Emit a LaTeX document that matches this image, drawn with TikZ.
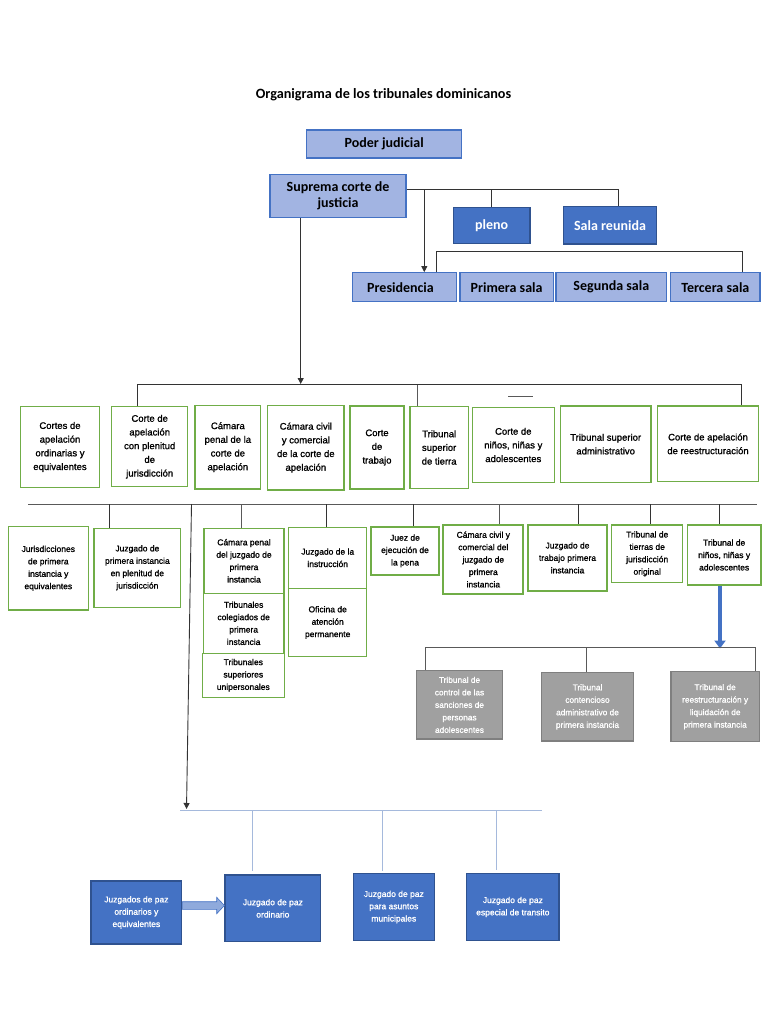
\documentclass[tikz,border=0pt]{standalone}
\usepackage{fontspec}
\setmainfont[FakeBold=1.2]{Liberation Sans}
\newfontfamily\carlito{Carlito}
\usetikzlibrary{arrows.meta}
\definecolor{lblue}{RGB}{162,180,226}
\definecolor{mblue}{RGB}{68,114,196}
\definecolor{dblue}{RGB}{47,82,143}
\definecolor{gborder}{RGB}{112,173,71}
\definecolor{gfill}{RGB}{160,160,160}
\definecolor{gdark}{RGB}{127,127,127}
\definecolor{arrowlb}{RGB}{143,170,220}
\definecolor{linebl}{RGB}{165,185,220}
\newcommand{\bx}[7]{\node[#1, minimum width={(#5)-(#3)}, minimum height={(#6)-(#4)}] (#2) at ({((#3)+(#5))/2},{((#4)+(#6))/2}) {#7};}
\tikzset{
  base/.style={rectangle, draw, inner sep=0pt, align=center},
  lb/.style={base, fill=lblue, draw=mblue, line width=1.2pt, font=\carlito\bfseries\fontsize{14}{16.5}\selectfont},
  db/.style={base, fill=mblue, draw=dblue, line width=1.2pt, text=white, font=\carlito\bfseries\fontsize{14}{16.5}\selectfont},
  gb/.style={base, fill=white, draw=gborder, line width=1.4pt, font=\fontsize{9.5}{13.7}\selectfont},
  gs/.style={base, fill=white, draw=gborder, line width=1.3pt, font=\fontsize{8.5}{12.4}\selectfont},
  gt/.style={gs, line width=2.3pt},
  grb/.style={base, fill=gfill, draw=gdark, line width=1.2pt, text=white, font=\fontsize{8.3}{12.5}\selectfont},
  pb/.style={base, fill=mblue, draw=dblue, line width=1.2pt, text=white, font=\fontsize{8.5}{12.3}\selectfont},
  conn/.style={draw=black!80, line width=0.9pt},
  conng/.style={draw=black!65, line width=0.9pt},
  connb/.style={draw=linebl, line width=1pt},
  arr/.style={-{Triangle[length=6pt,width=6pt]}}
}
\begin{document}
\begin{tikzpicture}[x=1pt,y=-1pt]
\useasboundingbox (0,0) rectangle (768,1024);
\fill[white] (0,0) rectangle (768,1024);

\node[font=\carlito\bfseries\fontsize{14.2}{16}\selectfont] (title) at (383.5,95) {Organigrama de los tribunales dominicanos};

% top
\bx{lb}{poder}{306.7}{130}{461.7}{158}{Poder judicial}
\bx{lb}{suprema}{270}{174.3}{406}{217.3}{Suprema corte de\\justicia}
\bx{db}{pleno}{453.3}{207.7}{530}{243.3}{pleno}
\bx{db}{sala}{563.3}{206.7}{656.7}{244}{Sala reunida}
\bx{lb}{pres}{352.3}{272.7}{456.7}{301.7}{Presidencia\hspace*{8pt}}
\bx{lb}{prim}{460}{272.7}{553.3}{301.7}{Primera sala}
\bx{lb}{seg}{556}{272.7}{666.7}{301.7}{Segunda sala}
\bx{lb}{terc}{670.7}{272.7}{760}{301.7}{Tercera sala}

\draw[conn] (suprema.east |- 0,189.3) -- (618,189.3) -- (618,0 |- sala.north);
\draw[conn] (491.7,189.3) -- (491.7,0 |- pleno.north);
\draw[conn,arr] (424.3,189.3) -- (424.3,0 |- pres.north);
\draw[conn] (436.7,0 |- pres.north) -- (436.7,251.7) -- (742.3,251.7) -- (742.3,0 |- terc.north);
\draw[conn,arr] (300.7,0 |- suprema.south) -- (300.7,384);

% row 2
\bx{gb}{c1}{20.7}{406.7}{99.3}{487.3}{Cortes de\\apelación\\ordinarias y\\equivalentes}
\bx{gb}{c2}{111.7}{406.7}{187.7}{486.7}{Corte de\\apelación\\con plenitud\\de\\jurisdicción}
\bx{gb}{c3}{195}{405.3}{260.7}{489}{Cámara\\penal de la\\corte de\\apelación}
\bx{gb}{c4}{267.7}{405.3}{344}{490}{Cámara civil\\y comercial\\de la corte de\\apelación}
\bx{gb}{c5}{350}{406}{404}{489}{Corte\\de\\trabajo}
\bx{gb}{c6}{410}{406.7}{468.3}{488.3}{Tribunal\\superior\\de tierra}
\bx{gb}{c7}{472.3}{407.3}{554.3}{482.7}{Corte de\\niños, niñas y\\adolescentes}
\bx{gb}{c8}{560.3}{406}{651}{482.3}{Tribunal superior\\administrativo}
\bx{gb}{c9}{657.7}{406}{758.3}{481.7}{Corte de apelación\\de reestructuración}

\draw[conn] (137.3,0 |- c2.north) -- (137.3,384.7) -- (741.5,384.7) -- (741.5,0 |- c9.north);
\draw[conng] (417.7,384.7) -- (417.7,0 |- c6.north);
\draw[conng] (508,396) -- (533,396);

% row 3
\bx{gs}{a}{8.3}{526.7}{88.3}{610}{Jurisdicciones\\de primera\\instancia y\\equivalentes}
\bx{gs}{b}{94}{528.3}{180.7}{607.3}{Juzgado de\\primera instancia\\en plenitud de\\jurisdicción}
\bx{gs}{cp}{204}{528.3}{284}{593.3}{Cámara penal\\del juzgado de\\primera\\instancia}
\bx{gs}{d}{203.3}{593.3}{284}{653.3}{Tribunales\\colegiados de\\primera\\instancia}
\bx{gs}{e}{202.3}{653.3}{284.3}{697.3}{Tribunales\\superiores\\unipersonales}
\bx{gs}{f}{288.7}{527.3}{366.7}{588.3}{Juzgado de la\\instrucción}
\bx{gs}{g}{288.7}{588.3}{366.7}{656.7}{Oficina de\\atención\\permanente}
\bx{gt}{h}{371}{526.7}{439}{575}{Juez de\\ejecución de\\la pena}
\bx{gt}{i}{443.3}{525}{523.3}{594}{Cámara civil y\\comercial del\\juzgado de\\primera\\instancia}
\bx{gt}{j}{528.3}{525}{606.7}{590.7}{Juzgado de\\trabajo primera\\instancia}
\bx{gs}{k}{611.7}{525}{682.7}{582.7}{Tribunal de\\tierras de\\jurisdicción\\original}
\bx{gs}{l}{687.3}{525}{761}{585}{Tribunal de\\niños, niñas y\\adolescentes}

\draw[conng] (28,504) -- (757,504);
\draw[conn] (109.3,504) -- (109.3,0 |- b.north);
\draw[conng] (241.7,504) -- (241.7,0 |- cp.north);
\draw[conn] (326.7,504) -- (326.7,0 |- f.north);
\draw[conn] (413.3,504) -- (413.3,0 |- h.north);
\draw[conng] (499.3,504) -- (499.3,0 |- i.north);
\draw[conn] (578.3,504) -- (578.3,0 |- j.north);
\draw[conn] (650,504) -- (650,0 |- k.north);
\draw[conn] (719,504) -- (719,0 |- l.north);

% grey
\bx{grb}{g1}{416.7}{670.7}{502.3}{739}{Tribunal de\\control de las\\sanciones de\\personas\\adolescentes}
\bx{grb}{g2}{541.7}{672.7}{633.3}{741}{Tribunal\\contencioso\\administrativo de\\primera instancia}
\bx{grb}{g3}{671}{671.7}{759.3}{741.7}{Tribunal de\\reestructuración y\\liquidación de\\primera instancia}

\draw[line width=4.3pt, mblue, -{Triangle[length=8pt,width=11pt]}] (720,0 |- l.south) -- (720,648.5);
\draw[conng] (425.7,0 |- g1.north) -- (425.7,647.7) -- (755,647.7) -- (755,0 |- g3.north);
\draw[conng] (586.7,647.7) -- (586.7,0 |- g2.north);

% bottom
\draw[conn,arr] (191.5,504) -- (186.5,809);
\bx{pb}{p1}{91}{881}{181.7}{944}{Juzgados de paz\\ordinarios y\\equivalentes}
\bx{pb}{p2}{225}{875}{320.7}{941.7}{Juzgado de paz\\ordinario}
\bx{pb}{p3}{353.3}{873.3}{434.3}{940.7}{Juzgado de paz\\para asuntos\\municipales}
\bx{pb}{p4}{466.7}{873.3}{559}{940.7}{Juzgado de paz\\especial de transito}

\draw[connb] (180,810.7) -- (541.7,810.7);
\draw[connb] (252,810.7) -- (252,871);
\draw[connb] (382.3,810.7) -- (382.3,871);
\draw[connb] (496.7,810.7) -- (496.7,870);

\draw[draw=mblue, fill=arrowlb, line width=0.6pt] (p1.east |- 0,901.7) -- (216.7,901.7) -- (216.7,897.3) -- (p2.west |- 0,905.5) -- (216.7,913.7) -- (216.7,909.3) -- (p1.east |- 0,909.3) -- cycle;
\end{tikzpicture}
\end{document}
